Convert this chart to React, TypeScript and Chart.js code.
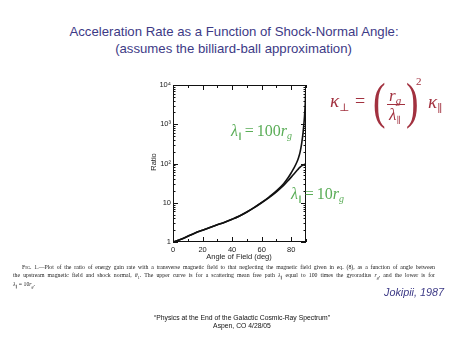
import React, { useEffect, useRef } from "react";
import { Chart, registerables } from "chart.js";

Chart.register(...registerables);

// ---- data ----
const angles = [0, 5, 10, 15, 20, 25, 30, 35, 40, 45, 50, 55, 60, 65, 70, 75, 78, 80, 82, 84, 85, 86, 87, 88, 89, 89.5, 90];
const upperRatio = [1, 1.15, 1.4, 1.7, 2.0, 2.35, 2.75, 3.2, 3.8, 4.6, 5.8, 7.6, 10.2, 14, 20, 31, 44, 58, 78, 112, 142, 195, 310, 600, 1600, 3400, 10000];
const lowerRatio = [1, 1.15, 1.4, 1.7, 2.0, 2.35, 2.75, 3.2, 3.8, 4.6, 5.8, 7.5, 10, 13.5, 19, 28, 37, 45, 55, 67, 74, 81, 87, 92, 95, 96, 96];
const xTickValues = [0, 20, 40, 60, 80];
const xMinorStep = 10;
const yTickLabels: Record<number, string> = { 1: "1", 10: "10", 100: "10²", 1000: "10³", 10000: "10⁴" };

const TITLE_COLOR = "#3d3a86";
const GREEN = "#5aad57";
const MAROON = "#a2313f";

const frameTicks = {
  id: "frameTicks",
  afterDraw(chart: any) {
    const { ctx, chartArea } = chart;
    const xs = chart.scales.x;
    const ys = chart.scales.y;
    ctx.save();
    ctx.strokeStyle = "#111";
    ctx.lineWidth = 1;
    ctx.strokeRect(chartArea.left + 0.5, chartArea.top + 0.5, chartArea.right - chartArea.left - 1, chartArea.bottom - chartArea.top - 1);
    ctx.beginPath();
    for (let v = xs.min; v <= xs.max; v += xMinorStep) {
      const px = Math.round(xs.getPixelForValue(v)) + 0.5;
      const len = v % 20 === 0 ? 5 : 3;
      ctx.moveTo(px, chartArea.bottom);
      ctx.lineTo(px, chartArea.bottom - len);
      ctx.moveTo(px, chartArea.top);
      ctx.lineTo(px, chartArea.top + len);
    }
    for (let d = 0; d < 4; d++) {
      for (let m = 1; m <= 9; m++) {
        const py = Math.round(ys.getPixelForValue(m * Math.pow(10, d))) + 0.5;
        const len = m === 1 ? 5 : 2.5;
        ctx.moveTo(chartArea.left, py);
        ctx.lineTo(chartArea.left + len, py);
        ctx.moveTo(chartArea.right, py);
        ctx.lineTo(chartArea.right - len, py);
      }
    }
    ctx.stroke();
    ctx.restore();
  },
};

function ChartCanvas() {
  const ref = useRef<HTMLCanvasElement | null>(null);
  useEffect(() => {
    if (!ref.current) return;
    const toPts = (ys: number[]) => angles.map((a, i) => ({ x: a, y: ys[i] }));
    const chart = new Chart(ref.current, {
      type: "line",
      data: {
        datasets: [
          { label: "λ∥ = 100 r_g", data: toPts(upperRatio), borderColor: "#111", borderWidth: 1.6, pointRadius: 0, cubicInterpolationMode: "monotone", fill: false },
          { label: "λ∥ = 10 r_g", data: toPts(lowerRatio), borderColor: "#111", borderWidth: 1.6, pointRadius: 0, cubicInterpolationMode: "monotone", fill: false },
        ],
      },
      options: {
        animation: false,
        responsive: false,
        events: [],
        layout: { padding: { left: 133, right: 168, top: 85, bottom: 99 } },
        plugins: { legend: { display: false }, tooltip: { enabled: false } },
        scales: {
          x: {
            type: "linear",
            min: 0,
            max: 90,
            grid: { display: false, drawTicks: false },
            border: { display: false },
            afterBuildTicks: (s: any) => { s.ticks = xTickValues.map((v) => ({ value: v })); },
            afterFit: (s: any) => { s.height = 14; },
            ticks: {
              font: { family: "Liberation Sans", size: 7.5 },
              color: "#222",
              padding: 3,
              maxRotation: 0,
              autoSkip: false,
              callback: (v: any) => String(v),
            },
          },
          y: {
            type: "logarithmic",
            min: 1,
            max: 10000,
            grid: { display: false, drawTicks: false },
            border: { display: false },
            afterBuildTicks: (s: any) => { s.ticks = Object.keys(yTickLabels).map((k) => ({ value: Number(k) })); },
            afterFit: (s: any) => { s.width = 40; },
            ticks: {
              font: { family: "Liberation Sans", size: 7.5 },
              color: "#222",
              padding: 2,
              autoSkip: false,
              callback: (v: any) => yTickLabels[Number(v)] ?? "",
            },
          },
        },
      },
      plugins: [frameTicks],
    } as any);
    return () => chart.destroy();
  }, []);
  return <canvas ref={ref} width={474} height={355} style={{ position: "absolute", left: 0, top: 0, width: 474, height: 355 }} />;
}

const abs = (left: number, top: number, extra: React.CSSProperties = {}): React.CSSProperties => ({
  position: "absolute",
  left,
  top,
  whiteSpace: "nowrap",
  lineHeight: 1,
  ...extra,
});

export default function App() {
  const serif = "'Liberation Serif', 'DejaVu Serif', serif";
  const sans = "'Liberation Sans', Arial, sans-serif";
  const eq = { margin: "0 3px" };
  return (
    <div style={{ position: "fixed", left: 0, top: 0, width: 474, height: 355, background: "#fff", overflow: "hidden" }}>
      {/* title */}
      <div style={{ position: "absolute", left: 0, width: 474, top: 24, textAlign: "center", fontFamily: sans, fontSize: 13.2, color: TITLE_COLOR, lineHeight: "16.5px" }}>
        <div style={{ marginLeft: -6 }}>Acceleration Rate as a Function of Shock-Normal Angle:</div>
        <div style={{ marginLeft: -7 }}>(assumes the billiard-ball approximation)</div>
      </div>

      <ChartCanvas />

      {/* axis titles */}
      <div style={abs(154, 162, { transform: "translate(-50%,-50%) rotate(-90deg)", fontFamily: sans, fontSize: 7.5, color: "#222" })}>Ratio</div>
      <div style={abs(239, 257, { transform: "translate(-50%,-50%)", fontFamily: sans, fontSize: 7.5, color: "#222" })}>Angle of Field (deg)</div>

      {/* curve labels */}
      <div style={abs(231, 123, { fontFamily: serif, fontSize: 16, color: GREEN })}>
        <i>λ</i><sub style={{ fontSize: 8, verticalAlign: -3 }}>∥</sub><span style={eq}>=</span>100<i>r</i><sub style={{ fontSize: 10, verticalAlign: -3 }}><i>g</i></sub>
      </div>
      <div style={abs(291, 186, { fontFamily: serif, fontSize: 16, color: GREEN })}>
        <i>λ</i><sub style={{ fontSize: 8, verticalAlign: -3 }}>∥</sub><span style={eq}>=</span>10<i>r</i><sub style={{ fontSize: 10, verticalAlign: -3 }}><i>g</i></sub>
      </div>

      {/* formula */}
      <div style={{ position: "absolute", left: 0, top: 0, fontFamily: serif, color: MAROON }}>
        <div style={abs(330, 91, { fontSize: 19 })}><i>κ</i><span style={{ fontSize: 11, position: "relative", top: 4 }}>⊥</span></div>
        <div style={abs(355, 92, { fontSize: 18 })}>=</div>
        <div style={abs(371, 76, { fontSize: 50, transform: "scaleX(0.75)" })}>(</div>
        <div style={abs(389, 87, { fontSize: 17 })}><i>r</i><span style={{ fontSize: 11, position: "relative", top: 3 }}><i>g</i></span></div>
        <div style={{ position: "absolute", left: 387, top: 104, width: 18, height: 1, background: MAROON }} />
        <div style={abs(389, 106, { fontSize: 17 })}><i>λ</i><span style={{ fontSize: 9, position: "relative", top: 3 }}>∥</span></div>
        <div style={abs(404, 76, { fontSize: 50, transform: "scaleX(0.75)" })}>)</div>
        <div style={abs(416, 76, { fontSize: 11 })}>2</div>
        <div style={abs(428, 92, { fontSize: 19 })}><i>κ</i><span style={{ fontSize: 11, position: "relative", top: 4 }}>∥</span></div>
      </div>

      {/* caption */}
      <div style={{ position: "absolute", left: 13, top: 264, width: 422, fontFamily: serif, fontSize: 5.8, color: "#222", lineHeight: "7.6px" }}>
        <div style={{ textAlign: "justify", textAlignLast: "justify", paddingLeft: 9 }}>
          F<span style={{ fontSize: 4.6 }}>IG</span>. 1.—Plot of the ratio of energy gain rate with a transverse magnetic field to that neglecting the magnetic field given in eq. (8), as a function of angle between
        </div>
        <div style={{ textAlign: "justify", textAlignLast: "justify" }}>
          the upstream magnetic field and shock normal, <i>θ</i><sub style={{ fontSize: 4 }}>1</sub>. The upper curve is for a scattering mean free path <i>λ</i><sub style={{ fontSize: 4 }}>∥</sub> equal to 100 times the gyroradius <i>r</i><sub style={{ fontSize: 4 }}><i>g</i></sub>, and the lower is for
        </div>
        <div>
          <i>λ</i><sub style={{ fontSize: 4 }}>∥</sub> = 10<i>r</i><sub style={{ fontSize: 4 }}><i>g</i></sub>.
        </div>
      </div>

      <div style={abs(384, 287, { fontFamily: sans, fontStyle: "italic", fontSize: 10.8, color: TITLE_COLOR })}>Jokipii, 1987</div>

      {/* footer */}
      <div style={{ position: "absolute", left: 0, width: 474, top: 314, textAlign: "center", fontFamily: sans, fontSize: 6.8, color: "#111", lineHeight: "8px" }}>
        <div style={{ marginLeft: 10 }}>“Physics at the End of the Galactic Cosmic-Ray Spectrum”</div>
        <div style={{ marginLeft: 10 }}>Aspen, CO 4/28/05</div>
      </div>
    </div>
  );
}
